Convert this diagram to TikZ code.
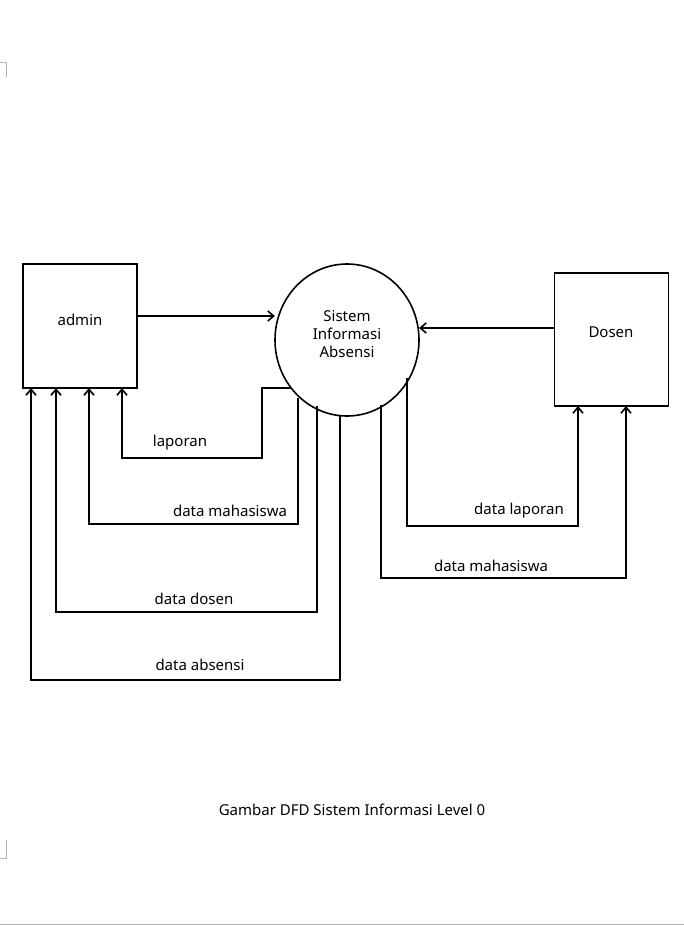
\documentclass[tikz,border=0pt]{standalone}
\usepackage{fontspec}
\setmainfont{Noto Sans}
\usetikzlibrary{arrows.meta,shapes.geometric}
\begin{document}
\begin{tikzpicture}[x=1pt,y=-1pt,
  ent/.style={draw,line width=1.6pt,minimum width=114pt,inner sep=0pt},
  flow/.style={line width=1.6pt,-{Straight Barb[length=6pt,width=10pt]}},
  lbl/.style={font=\fontsize{15}{18}\selectfont,inner sep=0pt},
  every node/.style={font=\fontsize{15}{18}\selectfont}]
\useasboundingbox (0,0) rectangle (684,926);
\fill[white] (0,0) rectangle (684,926);
\draw[gray!60,line width=1pt] (0,924) -- (684,924);
\draw[gray!60] (0,62)--(6,62)--(6,77) (6,840)--(6,858)--(0,858);
\node[ent,minimum height=124pt] (admin) at (80,326) {};
\node at (80,320) {admin};
\node[ent,minimum height=133pt] (dosen) at (611.5,339.5) {};
\node at (611,332) {Dosen};
\node[draw,line width=1.6pt,ellipse,minimum width=144pt,minimum height=152pt,inner sep=0pt] (p) at (347,340) {};
\node[align=center,font=\fontsize{15}{18}\selectfont] at (347,334) {Sistem\\Informasi\\Absensi};
\coordinate (a1) at (137,316);
\coordinate (p1) at (275,316);
\draw[flow] (a1) -- (p1);
\coordinate (d1) at (554,328);
\coordinate (p2) at (419,328);
\draw[flow] (d1) -- (p2);
\coordinate (s1) at (291,388);
\coordinate (t1) at (122,388);
\draw[flow] (s1) -- (262,388) -- (262,458) -- (122,458) -- (t1);
\node[lbl] at (180,443) {laporan};
\coordinate (s2) at (298,398);
\coordinate (t2) at (89,388);
\draw[flow] (s2) -- (298,524) -- (89,524) -- (t2);
\node[lbl] at (230,511) {data mahasiswa};
\coordinate (s3) at (317,406);
\coordinate (t3) at (56,388);
\draw[flow] (s3) -- (317,612) -- (56,612) -- (t3);
\node[lbl] at (194,599) {data dosen};
\coordinate (s4) at (340,415);
\coordinate (t4) at (31,388);
\draw[flow] (s4) -- (340,680) -- (31,680) -- (t4);
\node[lbl] at (200,665) {data absensi};
\coordinate (s5) at (407,378);
\coordinate (t5) at (578,406);
\draw[flow] (s5) -- (407,526) -- (578,526) -- (t5);
\node[lbl] at (519,511) {data laporan};
\coordinate (s6) at (381,405);
\coordinate (t6) at (626,406);
\draw[flow] (s6) -- (381,578) -- (626,578) -- (t6);
\node[lbl] at (491,566) {data mahasiswa};
\node[lbl] (cap) at (352,810) {Gambar DFD Sistem Informasi Level 0};
\end{tikzpicture}
\end{document}
